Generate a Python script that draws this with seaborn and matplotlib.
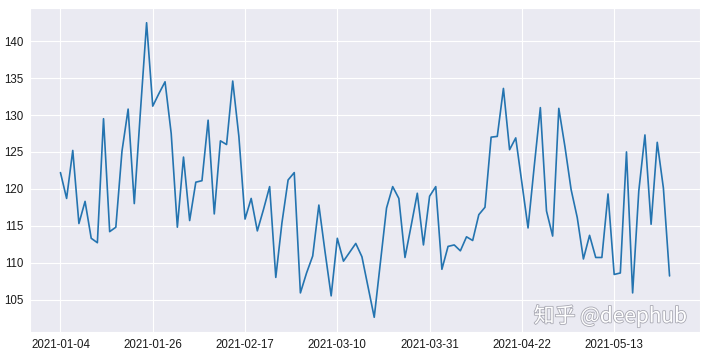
import numpy as np
import pandas as pd
import matplotlib
matplotlib.use("Agg")
import matplotlib.pyplot as plt
import matplotlib.patheffects as pe
import seaborn as sns

# 交易日（美股，去掉节假日）
holidays = ["2021-01-18", "2021-02-15", "2021-04-02"]
dates = pd.bdate_range("2021-01-04", "2021-05-26", freq="C", holidays=holidays)

values = [
    122.2, 118.7, 125.2, 115.3, 118.3, 113.3, 112.7, 129.5, 114.2, 114.8,
    125.1, 130.8, 118.0, 130.5, 142.5, 131.2, 132.9, 134.5, 127.5, 114.8,
    124.3, 115.7, 120.9, 121.1, 129.3, 116.6, 126.5, 126.0, 134.6, 127.1,
    115.9, 118.7, 114.3, 117.2, 120.3, 108.0, 115.4, 121.2, 122.2, 105.9,
    108.6, 110.9, 117.8, 111.5, 105.5, 113.3, 110.2, 111.4, 112.6, 110.8,
    106.7, 102.6, 110.0, 117.4, 120.3, 118.7, 110.7, 115.0, 119.4, 112.4,
    119.0, 120.3, 109.1, 112.2, 112.4, 111.6, 113.5, 113.0, 116.5, 117.5,
    127.0, 127.1, 133.6, 125.3, 126.9, 120.8, 114.7, 123.0, 131.0, 117.0,
    113.6, 130.9, 125.7, 119.9, 116.1, 110.5, 113.7, 110.7, 110.7, 119.3,
    108.4, 108.6, 125.0, 105.9, 119.7, 127.3, 115.2, 126.3, 120.1, 108.2,
]

labels = [d.strftime("%Y-%m-%d") for d in dates]
df = pd.DataFrame({"idx": np.arange(len(values)), "value": values})

sns.set_style("darkgrid")
plt.rcParams["font.family"] = ["Liberation Sans", "DejaVu Sans"]

fig = plt.figure(figsize=(7.07, 3.54), dpi=100)
ax = fig.add_axes([30 / 707, 22 / 354, 670 / 707, 324 / 354])

sns.lineplot(data=df, x="idx", y="value", ax=ax, color="#2474b0", linewidth=1.2)

tick_pos = list(range(0, len(values), 15))
ax.set_xticks(tick_pos)
ax.set_xticklabels([labels[i] for i in tick_pos])
ax.set_xlabel("")
ax.set_ylabel("")
ax.tick_params(axis="both", labelsize=8.3, colors="#1a1a1a", length=0)
ax.tick_params(axis="x", pad=5)
ax.tick_params(axis="y", pad=5)

# 水印
fig.text(0.972, 0.075, "知乎 @deephub", ha="right", va="bottom", fontsize=15,
         color="white", family=["Noto Sans CJK SC", "DejaVu Sans"],
         path_effects=[pe.withStroke(linewidth=1.2, foreground="#a9a9b3")])

fig.savefig("out.png", dpi=100)
